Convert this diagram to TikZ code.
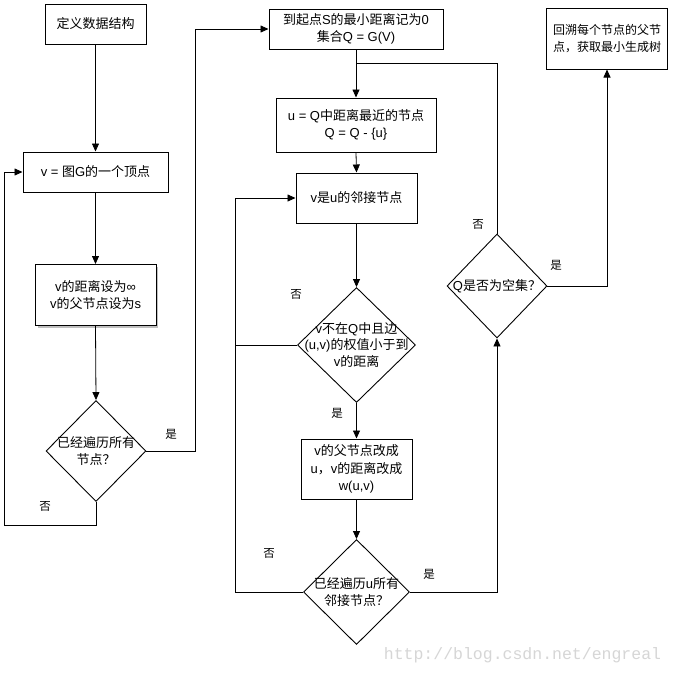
\documentclass[tikz,border=0pt]{standalone}
\usepackage{fontspec}
\setmainfont{Liberation Sans}
\newfontfamily\cjk{Noto Sans CJK SC}
\newfontfamily\wmfont{Liberation Mono}
\usetikzlibrary{shapes.geometric,arrows.meta}
\newcommand\zh[1]{{\cjk #1}}
\begin{document}
\begin{tikzpicture}[x=1pt,y=-1pt,
  box/.style={draw,line width=1pt,inner sep=0pt,align=center,font=\fontsize{13}{17.5}\selectfont},
  dia/.style={draw,line width=0.9pt,diamond,inner sep=0pt},
  dtext/.style={align=center,font=\fontsize{13}{16.5}\selectfont},
  lbl/.style={font=\cjk\fontsize{11.5}{12}\selectfont},
  conn/.style={line width=0.8pt},
  arr/.style={conn,-{Triangle[length=8pt,width=7pt]}}]
\fill[white] (0,0) rectangle (675,675);
\useasboundingbox (0,0) rectangle (675,675);

% left column
\node[box,minimum width=101pt,minimum height=40pt] (b1) at (95.5,24) {\zh{定义数据结构}};
\node[box,minimum width=145pt,minimum height=40pt] (b2) at (95.5,172) {v = \zh{图}G\zh{的一个顶点}};
\fill[black!25] (37.5,266.5) rectangle (158,327.5);
\node[box,fill=white,minimum width=121pt,minimum height=61pt] (b3) at (95.5,295) {v\zh{的距离设为}∞\\v\zh{的父节点设为}s};
\node[dia,minimum width=100pt,minimum height=101pt] (d1) at (96,451) {};
\node[dtext] at (d1) {\zh{已经遍历所有}\\\zh{节点？}};

% middle column
\node[box,minimum width=174pt,minimum height=40pt] (b4) at (356,29) {\zh{到起点}S\zh{的最小距离记为}0\\\zh{集合}Q = G(V)};
\node[box,minimum width=160pt,minimum height=54pt] (b5) at (356,125) {u = Q\zh{中距离最近的节点}\\Q = Q - \{u\}};
\node[box,minimum width=121pt,minimum height=50pt] (b6) at (356.5,198) {v\zh{是}u\zh{的邻接节点}};
\node[dia,minimum width=118pt,minimum height=115pt] (d2) at (356.5,345) {};
\node[dtext] at (d2) {v\zh{不在}Q\zh{中且边}\\(u,v)\zh{的权值小于到}\\v\zh{的距离}};
\node[box,minimum width=111pt,minimum height=60pt] (b7) at (356.5,469) {v\zh{的父节点改成}\\u\zh{，}v\zh{的距离改成}\\w(u,v)};
\node[dia,minimum width=106pt,minimum height=105pt] (d3) at (356.5,592) {};
\node[dtext] at (d3) {\zh{已经遍历}u\zh{所有}\\\zh{邻接节点？}};

% right column
\node[dia,minimum width=100pt,minimum height=104pt] (d4) at (497,286) {};
\node[dtext] at (d4) {Q\zh{是否为空集？}};
\node[box,minimum width=121pt,minimum height=61pt,font=\cjk\fontsize{12}{17}\selectfont] (b8) at (607,38.5) {回溯每个节点的父节\\点，获取最小生成树};

% helper coordinates
\coordinate (c1) at (4.5,525);
\coordinate (c2) at (195,29);
\coordinate (c3) at (356,63);
\coordinate (c4) at (235,198);

% connectors
\draw[arr] (b1) -- (b2);
\draw[arr] (b2) -- (b3);
\draw[arr] (b3.south) -- (d1.north);
\draw[arr] (d1.south) |- (c1) |- (b2.west);
\draw[arr] (d1.east) -| (c2) -- (b4.west);
\draw[arr] (b4.south) -- (b5.north);
\draw[conn] (c3) -| (d4.north);
\draw[arr] (b5.south) -- (b6.north);
\draw[arr] (b6.south) -- (d2.north);
\draw[arr] (d2.west) -| (c4) -- (b6.west);
\draw[arr] (d2.south) -- (b7.north);
\draw[arr] (b7.south) -- (d3.north);
\draw[conn] (d3.west) -| (d2.west -| c4);
\draw[arr] (d3.east) -| (d4.south);
\draw[arr] (d4.east) -| (b8.south);

% labels
\node[lbl] at (45,506) {否};
\node[lbl] at (171,434) {是};
\node[lbl] at (478,224) {否};
\node[lbl] at (296,294) {否};
\node[lbl] at (337,413) {是};
\node[lbl] at (269,553) {否};
\node[lbl] at (429,574) {是};
\node[lbl] at (556,265) {是};

% watermark
\node[font=\wmfont\fontsize{16.5}{18}\selectfont,text=black!16] (wm) at (522.5,655) {http://blog.csdn.net/engreal};
\end{tikzpicture}
\end{document}
